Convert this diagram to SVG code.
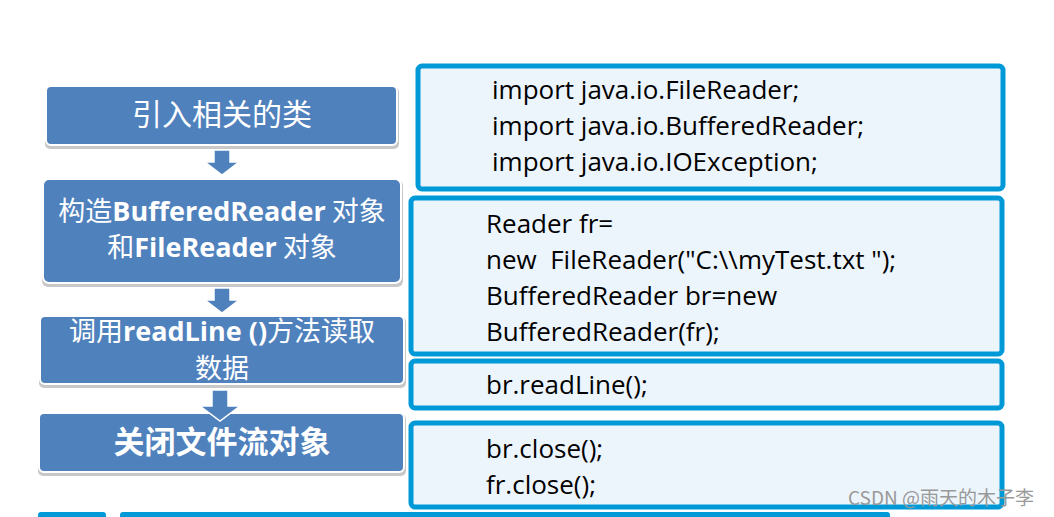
<svg xmlns="http://www.w3.org/2000/svg" width="1054" height="517" viewBox="0 0 1054 517">
<style>
.n{fill:#4F81BD;stroke:#fff;stroke-width:2}
.sh{fill:#c8c8c8}
.c{fill:#EDF5FC;stroke:#0099D8;stroke-width:5}
.t{fill:#fff;font-family:"Noto Sans CJK SC","Open Sans",sans-serif;font-size:27px;text-anchor:middle}
.b{font-weight:bold;font-family:"Open Sans",sans-serif}
.k{fill:#000;font-family:"Open Sans","Liberation Sans",sans-serif;font-size:26px}
.a{fill:#4F81BD;stroke:#fff;stroke-width:1.5}
</style>
<rect width="1054" height="517" fill="#fff"/>
<g id="n1"><rect class="sh" x="45" y="87" width="354" height="62" rx="5"/><rect class="n" x="46" y="86" width="351" height="59" rx="5"/><text class="t" x="222" y="125" style="font-size:30px">引入相关的类</text></g>
<g id="n2"><rect class="sh" x="42" y="180" width="361" height="107" rx="6"/><rect class="n" x="43" y="179" width="358" height="104" rx="6"/><text class="t" x="222" y="221">构造<tspan class="b">BufferedReader</tspan> 对象</text><text class="t" x="222" y="257">和<tspan class="b">FileReader</tspan> 对象</text></g>
<g id="n3"><rect class="sh" x="39" y="317" width="367" height="71" rx="5"/><rect class="n" x="40" y="316" width="364" height="68" rx="5"/><text class="t" x="222" y="341">调用<tspan class="b">readLine ()</tspan>方法读取</text><text class="t" x="222" y="378">数据</text></g>
<g id="n4"><rect class="sh" x="38" y="414" width="368" height="62" rx="5"/><rect class="n" x="39" y="413" width="365" height="59" rx="5"/><text class="t" x="222" y="453" style="font-size:31px;font-weight:bold">关闭文件流对象</text></g>
<g id="connectors">
<path class="a" d="M214 150h16v12h9l-17 13l-17-13h9z"/>
<path class="a" d="M214 288h16v12h9l-17 13l-17-13h9z"/>
<path class="a" d="M212 390h16v16h12l-20 15l-20-15h12z"/>
</g>
<g id="c1"><rect class="c" x="418" y="66" width="585" height="123" rx="4"/><text class="k" x="492" y="99">import java.io.FileReader;</text><text class="k" x="492" y="135">import java.io.BufferedReader;</text><text class="k" x="492" y="171">import java.io.IOException;</text></g>
<g id="c2"><rect class="c" x="411" y="198" width="591" height="156" rx="4"/><text class="k" x="486" y="233">Reader fr=</text><text class="k" x="486" y="269" xml:space="preserve">new  FileReader("C:\\myTest.txt ");</text><text class="k" x="486" y="305">BufferedReader br=new</text><text class="k" x="486" y="341">BufferedReader(fr);</text></g>
<g id="c3"><rect class="c" x="411" y="361" width="591" height="47" rx="4"/><text class="k" x="486" y="394">br.readLine();</text></g>
<g id="c4"><rect class="c" x="411" y="423" width="591" height="84" rx="4"/><text class="k" x="486" y="458">br.close();</text><text class="k" x="486" y="494">fr.close();</text></g>
<rect x="38" y="512" width="68" height="8" rx="3" fill="#0099D8"/>
<rect x="120" y="512" width="770" height="8" rx="3" fill="#0099D8"/>
<text x="848" y="505" font-family="Noto Sans CJK SC,sans-serif" font-size="19" fill="#999">CSDN @雨天的木子李</text>
</svg>
